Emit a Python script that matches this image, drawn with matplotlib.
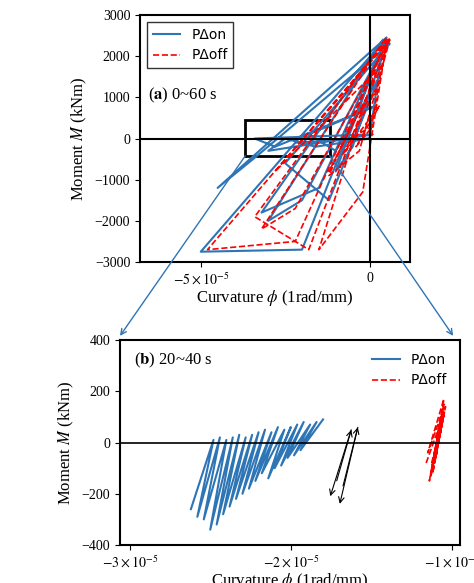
import matplotlib.pyplot as plt
import numpy as np
from matplotlib.patches import Rectangle, ConnectionPatch

plt.rcParams['font.family'] = ['Liberation Serif', 'DejaVu Serif']
plt.rcParams['mathtext.fontset'] = 'stix'

# top panel (units 1e-5 rad/mm, kNm)
on_x = [0, 0.4, -1.0, -0.5, 0.5, -2.0, -3.0, 0.4, -3.2, -1.5, 0.5, -5.0, -2.0, 0.5, -4.5, -3.3, 0.6, -2.5, -1.2, 0.3, -1.0, -1.8, 0.2, -2.8, -3.4, 0.1, -3.0, -2.5, -1.6, 0, -2.2]
on_y = [0, 2300, -800, -200, 2350, -1500, -2000, 2400, -1800, -1200, 2450, -2750, -2700, 2450, -1200, -400, 2300, -600, -1500, 1500, -300, 100, 800, -200, 0, 100, -300, 0, -200, 0, -100]
off_x = [0, 0.5, -1.2, -0.3, 0.6, -2.2, -3.2, 0.5, -3.4, -1.8, 0.6, -4.8, -2.2, 0.3, -1.5, -0.2, 0.5, -2.8, 0.4, -1.2, -0.4, 0.2, -0.8, 0.3, -0.4, 0.1, -0.6]
off_y = [0, 2400, -900, -300, 2400, -1700, -2200, 2450, -1900, -2700, 2450, -2700, -2500, 2000, -2700, -1300, 2300, -800, 1800, -800, 500, 1200, -400, 800, -200, 300, 0]

# bottom panel
b_on_x = [-2.62, -2.48, -2.58, -2.44, -2.54, -2.40, -2.50, -2.36, -2.46, -2.32, -2.42, -2.28, -2.38, -2.24, -2.34, -2.20, -2.30, -2.16, -2.26, -2.12, -2.22, -2.08, -2.18, -2.04, -2.14, -2.00, -2.10, -1.96, -2.06, -1.92, -2.02, -1.88, -1.98, -1.84, -1.94, -1.80]
b_on_y = [-260, 10, -290, 20, -300, 10, -340, 20, -320, 30, -280, 20, -250, 30, -220, 40, -200, 50, -180, 40, -150, 60, -120, 50, -140, 60, -100, 70, -90, 80, -60, 70, -50, 80, -30, 90]
b_off_x = [-1.16, -1.08, -1.14, -1.06, -1.12, -1.05, -1.15, -1.07, -1.13, -1.05, -1.10, -1.06, -1.12, -1.04, -1.09, -1.05, -1.13]
b_off_y = [-80, 60, -150, 120, -100, 170, -40, 100, -130, 150, -60, 80, -120, 140, -20, 110, -90]

c_blue = '#2E75B6'
fig = plt.figure(figsize=(4.74, 5.83), dpi=100)
W, H = 474, 583
ax1 = fig.add_axes([140/W, 1-262/H, 270/W, 247/H])
ax2 = fig.add_axes([120/W, 1-545/H, 340/W, 205/H])

ax1.plot(np.array(on_x)*1e-5, on_y, color=c_blue, lw=1.5, label='PΔon')
ax1.plot(np.array(off_x)*1e-5, off_y, color='red', lw=1.2, ls='--', label='PΔoff')
ax1.set_xlim(-6.8e-5, 1.2e-5); ax1.set_ylim(-3000, 3000)
ax1.set_xticks([-5e-5, 0]); ax1.set_xticklabels([r'$-5\times10^{-5}$', '0'])
ax1.set_yticks(range(-3000, 3001, 1000))
ax1.tick_params(labelsize=10)
ax1.axhline(0, color='k', lw=1.5); ax1.axvline(0, color='k', lw=1.5)
ax1.add_patch(Rectangle((-3.68e-5, -420), 2.5e-5, 860, fill=False, ec='k', lw=2))
ax1.legend(loc='upper left', prop={'family': 'DejaVu Sans', 'size': 10}, frameon=True, edgecolor='k', fancybox=False)
ax1.text(0.03, 0.66, r'($\mathbf{a}$) 0~60 s', transform=ax1.transAxes, fontsize=12)
ax1.set_xlabel(r'Curvature $\phi$ (1rad/mm)', fontsize=12, labelpad=0)
ax1.set_ylabel(r'Moment $M$ (kNm)', fontsize=12)
for s in ax1.spines.values(): s.set_linewidth(1.5)

ax2.plot(np.array(b_on_x)*1e-5, b_on_y, color=c_blue, lw=1.5, label='PΔon')
ax2.plot(np.array(b_off_x)*1e-5, b_off_y, color='red', lw=1.2, ls='--', label='PΔoff')
ax2.set_xlim(-3.06e-5, -0.95e-5); ax2.set_ylim(-400, 400)
ax2.set_xticks([-3e-5, -2e-5, -1e-5])
ax2.set_xticklabels([r'$-3\times10^{-5}$', r'$-2\times10^{-5}$', r'$-1\times10^{-5}$'])
ax2.set_yticks(range(-400, 401, 200))
ax2.tick_params(labelsize=10)
ax2.axhline(0, color='k', lw=1.2)
for (x0, y0, x1, y1) in [(-1.72, -160, -1.62, 60), (-1.62, 60, -1.76, -220), (-1.68, -180, -1.58, 70), (-1.58, 70, -1.70, -250)]:
    ax2.annotate('', xy=(x1*1e-5, y1), xytext=(x0*1e-5, y0), arrowprops=dict(arrowstyle='->', lw=0.8, color='k'))
ax2.legend(loc='upper right', prop={'family': 'DejaVu Sans', 'size': 10}, frameon=False)
ax2.text(0.04, 0.88, r'($\mathbf{b}$) 20~40 s', transform=ax2.transAxes, fontsize=12)
ax2.set_xlabel(r'Curvature $\phi$ (1rad/mm)', fontsize=12, labelpad=0)
ax2.set_ylabel(r'Moment $M$ (kNm)', fontsize=12)
for s in ax2.spines.values(): s.set_linewidth(1.5)

for (xa, ya, xb, yb) in [(-3.68e-5, -420, 0.0, 1.02), (-1.18e-5, -420, 0.98, 1.02)]:
    cp = ConnectionPatch(xyA=(xa, ya), coordsA=ax1.transData, xyB=(xb, yb), coordsB=ax2.transAxes,
                         arrowstyle='->', color=c_blue, lw=1)
    fig.add_artist(cp)
fig.savefig('out.png', dpi=100)
